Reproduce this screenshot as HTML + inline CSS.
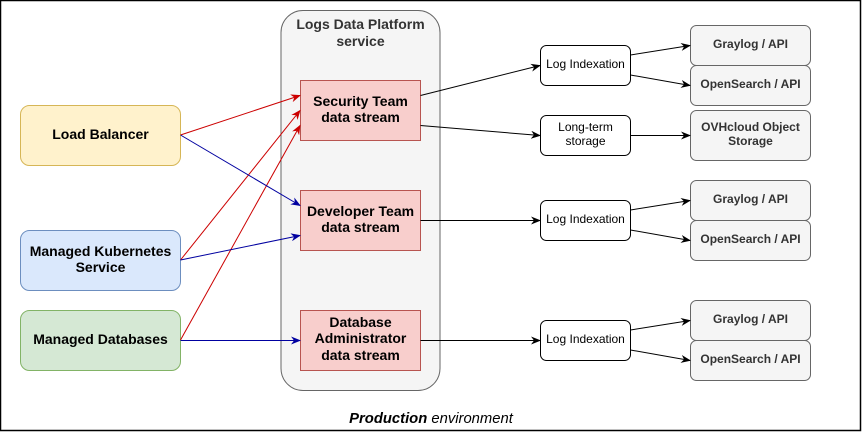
<!DOCTYPE html>
<html><head><meta charset="utf-8"><style>
html,body{margin:0;padding:0;background:#fff;}
svg{display:block;font-family:"Liberation Sans",Helvetica,sans-serif;}
</style></head><body>
<svg width="862" height="432" viewBox="0 0 862 432" xmlns="http://www.w3.org/2000/svg">
<defs>
<marker id="ak" markerWidth="10" markerHeight="8" refX="9" refY="4" orient="auto" markerUnits="userSpaceOnUse"><path d="M0,0 L10,4 L0,8 L3,4 z" fill="#000"/></marker>
<marker id="ar" markerWidth="10" markerHeight="8" refX="9" refY="4" orient="auto" markerUnits="userSpaceOnUse"><path d="M0,0 L10,4 L0,8 L3,4 z" fill="#cc0000"/></marker>
<marker id="ab" markerWidth="10" markerHeight="8" refX="9" refY="4" orient="auto" markerUnits="userSpaceOnUse"><path d="M0,0 L10,4 L0,8 L3,4 z" fill="#0000a0"/></marker>
</defs>
<rect x="0.5" y="0.5" width="860" height="430" fill="#fff" stroke="#000" stroke-width="1.5"/>
<rect x="281" y="10.5" width="159" height="380" rx="22" fill="#f5f5f5" stroke="#666"/>
<text x="360.5" y="29" text-anchor="middle" font-size="14" font-weight="bold" fill="#333">Logs Data Platform</text>
<text x="360.5" y="46" text-anchor="middle" font-size="14" font-weight="bold" fill="#333">service</text>
<rect x="20.5" y="105.5" width="160" height="60" rx="9" fill="#fff2cc" stroke="#d6b656"/>
<text x="100.5" y="139" text-anchor="middle" font-size="14" font-weight="bold">Load Balancer</text>
<rect x="20.5" y="230.5" width="160" height="60" rx="9" fill="#dae8fc" stroke="#6c8ebf"/>
<text x="100.5" y="256" text-anchor="middle" font-size="14" font-weight="bold">Managed Kubernetes</text>
<text x="100.5" y="272" text-anchor="middle" font-size="14" font-weight="bold">Service</text>
<rect x="20.5" y="310.5" width="160" height="60" rx="9" fill="#d5e8d4" stroke="#82b366"/>
<text x="100.5" y="344" text-anchor="middle" font-size="14" font-weight="bold">Managed Databases</text>
<rect x="300.5" y="80.5" width="120" height="60" fill="#f8cecc" stroke="#b85450"/>
<text x="360.5" y="106" text-anchor="middle" font-size="14" font-weight="bold">Security Team</text>
<text x="360.5" y="122" text-anchor="middle" font-size="14" font-weight="bold">data stream</text>
<rect x="300.5" y="190.5" width="120" height="60" fill="#f8cecc" stroke="#b85450"/>
<text x="360.5" y="216" text-anchor="middle" font-size="14" font-weight="bold">Developer Team</text>
<text x="360.5" y="232" text-anchor="middle" font-size="14" font-weight="bold">data stream</text>
<rect x="300.5" y="310.5" width="120" height="60" fill="#f8cecc" stroke="#b85450"/>
<text x="360.5" y="327" text-anchor="middle" font-size="14" font-weight="bold">Database</text>
<text x="360.5" y="343" text-anchor="middle" font-size="14" font-weight="bold">Administrator</text>
<text x="360.5" y="360" text-anchor="middle" font-size="14" font-weight="bold">data stream</text>
<g fill="#fff" stroke="#000">
<rect x="540.5" y="45.5" width="90" height="40" rx="6"/>
<rect x="540.5" y="115.5" width="90" height="40" rx="6"/>
<rect x="540.5" y="200.5" width="90" height="40" rx="6"/>
<rect x="540.5" y="320.5" width="90" height="40" rx="6"/>
</g>
<g font-size="12" text-anchor="middle">
<text x="585.5" y="68">Log Indexation</text>
<text x="585.5" y="131">Long-term</text>
<text x="585.5" y="145">storage</text>
<text x="585.5" y="223">Log Indexation</text>
<text x="585.5" y="343">Log Indexation</text>
</g>
<g fill="#f5f5f5" stroke="#666">
<rect x="690.5" y="25.5" width="120" height="40" rx="6"/>
<rect x="690.5" y="65.5" width="120" height="40" rx="6"/>
<rect x="690.5" y="110.5" width="120" height="50" rx="6"/>
<rect x="690.5" y="180.5" width="120" height="40" rx="6"/>
<rect x="690.5" y="220.5" width="120" height="40" rx="6"/>
<rect x="690.5" y="300.5" width="120" height="40" rx="6"/>
<rect x="690.5" y="340.5" width="120" height="40" rx="6"/>
</g>
<g font-size="12" font-weight="bold" text-anchor="middle" fill="#333">
<text x="750.5" y="48">Graylog / API</text>
<text x="750.5" y="88">OpenSearch / API</text>
<text x="750.5" y="131">OVHcloud Object</text>
<text x="750.5" y="145">Storage</text>
<text x="750.5" y="203">Graylog / API</text>
<text x="750.5" y="243">OpenSearch / API</text>
<text x="750.5" y="323">Graylog / API</text>
<text x="750.5" y="363">OpenSearch / API</text>
</g>
<g stroke="#cc0000" fill="none" marker-end="url(#ar)">
<line x1="180.5" y1="135" x2="300" y2="95.5"/>
<line x1="180.5" y1="260" x2="300" y2="110.5"/>
<line x1="180.5" y1="340" x2="300" y2="125.5"/>
</g>
<g stroke="#0000a0" fill="none" marker-end="url(#ab)">
<line x1="180.5" y1="135" x2="300" y2="205.5"/>
<line x1="180.5" y1="260" x2="300" y2="235.5"/>
<line x1="180.5" y1="340.5" x2="300" y2="340.5"/>
</g>
<g stroke="#000" fill="none" marker-end="url(#ak)">
<line x1="420.5" y1="95.5" x2="540" y2="65.5"/>
<line x1="420.5" y1="125.5" x2="540" y2="135.5"/>
<line x1="420.5" y1="220.5" x2="540" y2="220.5"/>
<line x1="420.5" y1="340.5" x2="540" y2="340.5"/>
<line x1="630.5" y1="55" x2="690" y2="45.5"/>
<line x1="630.5" y1="75" x2="690" y2="85.5"/>
<line x1="630.5" y1="135.5" x2="690" y2="135.5"/>
<line x1="630.5" y1="210" x2="690" y2="200.5"/>
<line x1="630.5" y1="230" x2="690" y2="240.5"/>
<line x1="630.5" y1="330" x2="690" y2="320.5"/>
<line x1="630.5" y1="350" x2="690" y2="360.5"/>
</g>
<text x="431" y="423" text-anchor="middle" font-size="14.8" font-style="italic"><tspan font-weight="bold">Production</tspan> environment</text>
</svg>
</body></html>
